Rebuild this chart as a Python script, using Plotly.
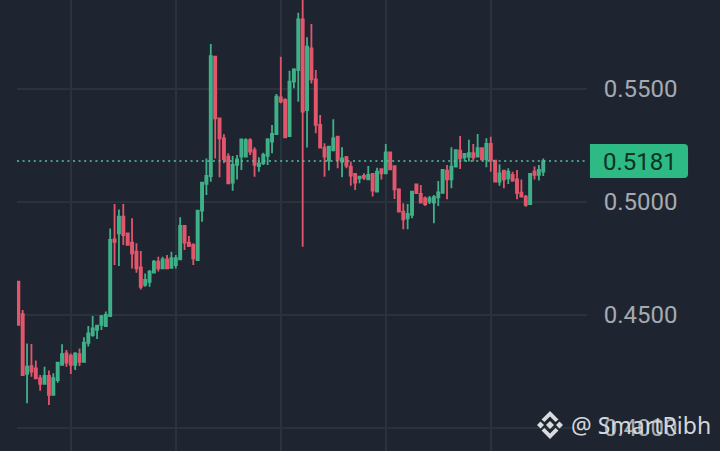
import plotly.graph_objects as go

# prix, une bougie par valeur
opens = [
    .4647, .4504, .4239, .4274, .4264, .4220, .4195, .4230, .4146, .4212, .4279, .4330,
    .4320, .4279, .4327, .4293, .4377, .4411, .4434, .4456, .4451, .4495, .4835, .4861,
    .4935, .4861, .4820, .4780, .4711, .4633, .4647, .4687, .4736, .4706, .4746, .4709,
    .4721, .4746, .4894, .4820, .4810, .4743, .4962, .5080, .5115, .5643, .5370, .5282,
    .5201, .5086, .5164, .5201, .5201, .5274, .5230, .5159, .5171, .5204, .5267, .5300,
    .5463, .5452, .5292, .5533, .5584, .5808, .5407, .5680, .5543, .5341, .5241, .5183,
    .5230, .5289, .5179, .5198, .5156, .5124, .5105, .5115, .5100, .5124, .5046, .5145,
    .5127, .5220, .5159, .5056, .4957, .4928, .4943, .5078, .5036, .5016, .5002, .4997,
    .5021, .5041, .5139, .5100, .5157, .5227, .5198, .5201, .5216, .5201, .5238, .5189,
    .5257, .5183, .5090, .5139, .5105, .5120, .5100, .5041, .5024, .4991, .5134, .5120,
    .5134,
]
highs = [
    .4647, .4522, .4374, .4372, .4298, .4234, .4271, .4254, .4242, .4293, .4370, .4345,
    .4330, .4335, .4352, .4401, .4451, .4495, .4456, .4500, .4515, .4883, .4991, .4967,
    .4991, .4861, .4928, .4817, .4783, .4684, .4699, .4743, .4758, .4758, .4765, .4780,
    .4765, .4932, .4898, .4849, .4817, .4965, .5090, .5193, .5699, .5643, .5370, .5300,
    .5216, .5204, .5208, .5277, .5282, .5282, .5242, .5198, .5218, .5282, .5341, .5478,
    .5643, .5459, .5581, .5592, .5838, .5900, .5729, .5788, .5584, .5385, .5260, .5248,
    .5366, .5289, .5242, .5204, .5179, .5127, .5115, .5127, .5159, .5124, .5152, .5149,
    .5257, .5220, .5159, .5061, .4994, .4991, .5049, .5078, .5075, .5024, .5027, .5031,
    .5093, .5145, .5164, .5242, .5230, .5292, .5216, .5275, .5257, .5301, .5242, .5282,
    .5289, .5186, .5167, .5142, .5149, .5134, .5142, .5100, .5031, .5124, .5157, .5164,
    .5193,
]
lows = [
    .4456, .4234, .4109, .4227, .4220, .4165, .4195, .4102, .4146, .4200, .4279, .4271,
    .4239, .4257, .4274, .4293, .4360, .4404, .4394, .4434, .4448, .4495, .4721, .4717,
    .4810, .4810, .4706, .4687, .4613, .4625, .4625, .4684, .4692, .4706, .4706, .4706,
    .4706, .4743, .4788, .4802, .4721, .4740, .4913, .5031, .5090, .5193, .5109, .5171,
    .5083, .5050, .5100, .5142, .5201, .5208, .5112, .5134, .5164, .5164, .5216, .5297,
    .5437, .5286, .5289, .5503, .5444, .4802, .5241, .5525, .5304, .5241, .5112, .5139,
    .5223, .5149, .5109, .5149, .5072, .5053, .5083, .5097, .5097, .5024, .5046, .5100,
    .5124, .5142, .5013, .4957, .4879, .4879, .4928, .5039, .4994, .4982, .4991, .4906,
    .4982, .5041, .5012, .5061, .5157, .5146, .5179, .5179, .5179, .5198, .5183, .5154,
    .5134, .5090, .5072, .5061, .5080, .5090, .5012, .5021, .4979, .4991, .5100, .5095,
    .5115,
]
closes = [
    .4456, .4234, .4271, .4249, .4220, .4195, .4230, .4146, .4220, .4289, .4327, .4289,
    .4279, .4330, .4293, .4377, .4419, .4441, .4453, .4495, .4500, .4832, .4824, .4935,
    .4854, .4810, .4773, .4706, .4625, .4655, .4692, .4736, .4706, .4746, .4706, .4751,
    .4751, .4894, .4820, .4805, .4751, .4962, .5086, .5115, .5646, .5370, .5282, .5189,
    .5083, .5164, .5189, .5277, .5274, .5223, .5164, .5171, .5208, .5277, .5301, .5466,
    .5444, .5286, .5533, .5587, .5808, .5400, .5688, .5543, .5341, .5241, .5201, .5245,
    .5282, .5186, .5193, .5161, .5117, .5086, .5112, .5108, .5120, .5050, .5134, .5127,
    .5220, .5145, .5056, .4957, .4923, .4947, .5046, .5039, .4997, .4991, .5016, .5021,
    .5043, .5142, .5100, .5157, .5230, .5193, .5213, .5216, .5198, .5238, .5189, .5257,
    .5183, .5090, .5127, .5100, .5134, .5095, .5041, .5024, .4987, .5124, .5120, .5142,
    .5181,
]

price_ticks = [0.40, 0.45, 0.50, 0.55]
price_labels = ["0.4000", "0.4500", "0.5000", "0.5500"]
time_ticks = [12, 36, 60, 84, 108]
last_price = 0.5181

BG = "#1e2530"
GRID = "#2c323c"
UP = "#3fb088"
DOWN = "#e2566c"
W, H = 720, 451


def px(x, y):
    return f"{x / W:.4f},{1 - y / H:.4f}"


def poly(points):
    return "M" + " L".join(px(x, y) for x, y in points) + " Z"


fig = go.Figure()

fig.add_trace(go.Candlestick(
    x=list(range(len(opens))),
    open=opens, high=highs, low=lows, close=closes,
    increasing=dict(line=dict(color=UP, width=1.8), fillcolor=UP),
    decreasing=dict(line=dict(color=DOWN, width=1.8), fillcolor=DOWN),
    whiskerwidth=0,
    showlegend=False,
))

# ligne du dernier prix
fig.add_shape(type="line", xref="x", yref="y", x0=-0.3, x1=130, y0=last_price, y1=last_price,
              line=dict(color="#55c3a2", width=1.5, dash="2px,3.6px"))

# badge du prix, coins arrondis a droite seulement
fig.add_shape(type="path", xref="paper", yref="paper", line=dict(width=0), fillcolor="#2dba85",
              path=f"M{px(590, 144)} L{px(684, 144)} Q{px(688, 144)} {px(688, 148)} "
                   f"L{px(688, 174)} Q{px(688, 178)} {px(684, 178)} L{px(590, 178)} Z")
fig.add_annotation(xref="paper", yref="paper", x=640 / W, y=1 - 161.5 / H, text="0.5181", showarrow=False,
                   xanchor="center", yanchor="middle",
                   font=dict(family="Roboto", size=24, color="#0c3324"))

# logo du filigrane
cx, cy = 550, 425
logo = [
    [(cx, cy - 4), (cx + 4, cy), (cx, cy + 4), (cx - 4, cy)],
    [(cx - 13, cy), (cx - 9.5, cy - 3.5), (cx - 6, cy), (cx - 9.5, cy + 3.5)],
    [(cx + 13, cy), (cx + 9.5, cy - 3.5), (cx + 6, cy), (cx + 9.5, cy + 3.5)],
    [(cx, cy - 14), (cx + 8.5, cy - 5.5), (cx + 5.5, cy - 3), (cx, cy - 8.5), (cx - 5.5, cy - 3), (cx - 8.5, cy - 5.5)],
    [(cx, cy + 14), (cx + 8.5, cy + 5.5), (cx + 5.5, cy + 3), (cx, cy + 8.5), (cx - 5.5, cy + 3), (cx - 8.5, cy + 5.5)],
]
for part in logo:
    fig.add_shape(type="path", xref="paper", yref="paper", path=poly(part),
                  line=dict(width=0), fillcolor="#d9dbde")

fig.add_annotation(xref="paper", yref="paper", x=569 / W, y=1 - 425 / H, xanchor="left", yanchor="middle",
                   text="@ SmartRibh", showarrow=False,
                   font=dict(family="Noto Sans", size=23, color="#d5d7da"))

fig.update_layout(
    width=W, height=H,
    autosize=False,
    margin=dict(l=0, r=0, t=0, b=0),
    paper_bgcolor=BG,
    plot_bgcolor=BG,
    hovermode=False,
    font=dict(family="Roboto"),
    xaxis=dict(
        domain=[17 / W, 587 / W],
        range=[-0.3, 130],
        rangeslider=dict(visible=False),
        tickvals=time_ticks,
        showticklabels=False,
        ticks="",
        showgrid=True,
        gridcolor=GRID,
        gridwidth=1.5,
        zeroline=False,
        showline=False,
    ),
    yaxis=dict(
        side="right",
        range=[0.3898, 0.5894],
        tickvals=price_ticks,
        ticktext=price_labels,
        tickfont=dict(family="Roboto", size=24, color="#a6aab0"),
        ticks="outside",
        ticklen=11,
        tickcolor="rgba(0,0,0,0)",
        showgrid=True,
        gridcolor=GRID,
        gridwidth=1.5,
        zeroline=False,
        showline=False,
    ),
)

# le corps de page ajoute 8px de marge par defaut
fig.write_html(
    "out.html",
    config={"displayModeBar": False},
    post_script="document.body.style.margin='0';document.body.style.overflow='hidden';"
                "document.body.style.background='#1e2530';",
)
